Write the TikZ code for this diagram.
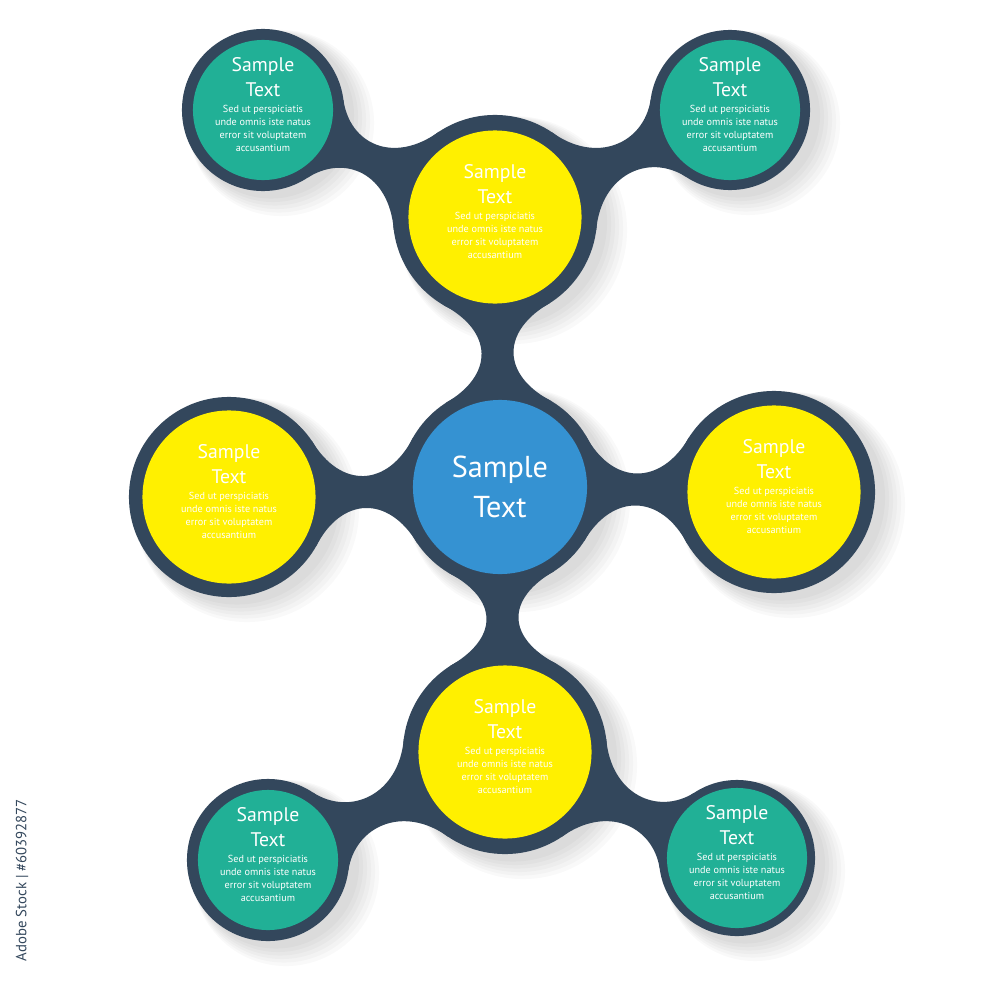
\documentclass[tikz,border=0pt]{standalone}
\usepackage{fontspec}
\setmainfont{PT Sans}
\usetikzlibrary{calc}
\definecolor{ringc}{HTML}{33475C}
\definecolor{greenc}{HTML}{21B096}
\definecolor{yellowc}{HTML}{FFF000}
\definecolor{bluec}{HTML}{3592D2}
\tikzset{ring/.style={fill=ringc},
 ttl/.style={text=white,align=center,font=\fontsize{5.6}{7.1}\selectfont,inner sep=0pt},
 bdy/.style={text=white,align=center,font=\fontsize{2.9}{3.7}\selectfont,inner sep=0pt}}
\newcommand\neck[4]{%
 \pgfmathsetmacro\cc{(8*0.16-(#3+#4)*sin(32))/6}%
 \pgfmathsetmacro\da{#3+0.12}\pgfmathsetmacro\db{#4+0.12}%
 \coordinate (pa) at ($(#1)!\da cm!(#2)$);
 \coordinate (pb) at ($(#2)!\db cm!(#1)$);
 \fill[ring] ($(#1)!#3cm!32:(#2)$) .. controls ($(pa)!\cc cm!90:(#2)$) and ($(pb)!\cc cm!-90:(#1)$) .. ($(#2)!#4cm!-32:(#1)$)
   -- ($(#2)!#4cm!32:(#1)$) .. controls ($(pb)!\cc cm!90:(#1)$) and ($(pa)!\cc cm!-90:(#2)$) .. ($(#1)!#3cm!-32:(#2)$) -- cycle;}
\newcommand\bubble[1]{%
 \foreach \k in {1,...,6}{\fill[black,opacity=0.025] ($(#1)+(6+2*\k,4+1.5*\k)$) circle ({\r cm+0.02cm*\k});}}
\newcommand\sm[1]{\node[ttl] at ($(#1)+(0,-33)$) {Sample\\Text};
 \node[bdy] at ($(#1)+(0,18)$) {Sed ut perspiciatis\\unde omnis iste natus\\error sit voluptatem\\accusantium};}
\begin{document}
\begin{tikzpicture}[x=0.01cm,y=-0.01cm]
\useasboundingbox[fill=white] (0,0) rectangle (1000,1000);
\coordinate (C) at (500,487);
\coordinate (T) at (495,217);
\coordinate (B) at (505,752);
\coordinate (L) at (229,497);
\coordinate (R) at (774,492);
\coordinate (TL) at (263,110);
\coordinate (TR) at (730,110);
\coordinate (BL) at (268,860);
\coordinate (BR) at (737,858);
\foreach \n/\r in {C/1,T/1.02,B/1.02,L/1,R/1.01,TL/0.81,TR/0.8,BL/0.81,BR/0.78}{\bubble{\n}}
\neck{C}{T}{1}{1.02}
\neck{C}{B}{1}{1.02}
\neck{C}{L}{1}{1}
\neck{C}{R}{1}{1.01}
\neck{T}{TL}{1.02}{0.81}
\neck{T}{TR}{1.02}{0.8}
\neck{B}{BL}{1.02}{0.81}
\neck{B}{BR}{1.02}{0.78}
\foreach \n/\r in {C/1,T/1.02,B/1.02,L/1,R/1.01,TL/0.81,TR/0.8,BL/0.81,BR/0.78}{\fill[ring] (\n) circle (\r cm);}
\fill[bluec] (C) circle (0.87cm);
\foreach \n in {T,B,L,R}{\fill[yellowc] (\n) circle (0.865cm);}
\foreach \n in {TL,TR,BL,BR}{\fill[greenc] (\n) circle (0.70cm);}
\node[text=white,align=center,font=\fontsize{8.6}{11.5}\selectfont,inner sep=0pt] (ct) at (C) {Sample\\Text};
\foreach \n in {T,B,L,R,TL,TR,BL,BR}{\sm{\n}}
\node[rotate=90,font=\fontsize{4.2}{5}\selectfont,text=ringc,inner sep=0pt] (wm) at (22,880) {Adobe Stock | \#60392877};
\end{tikzpicture}
\end{document}
